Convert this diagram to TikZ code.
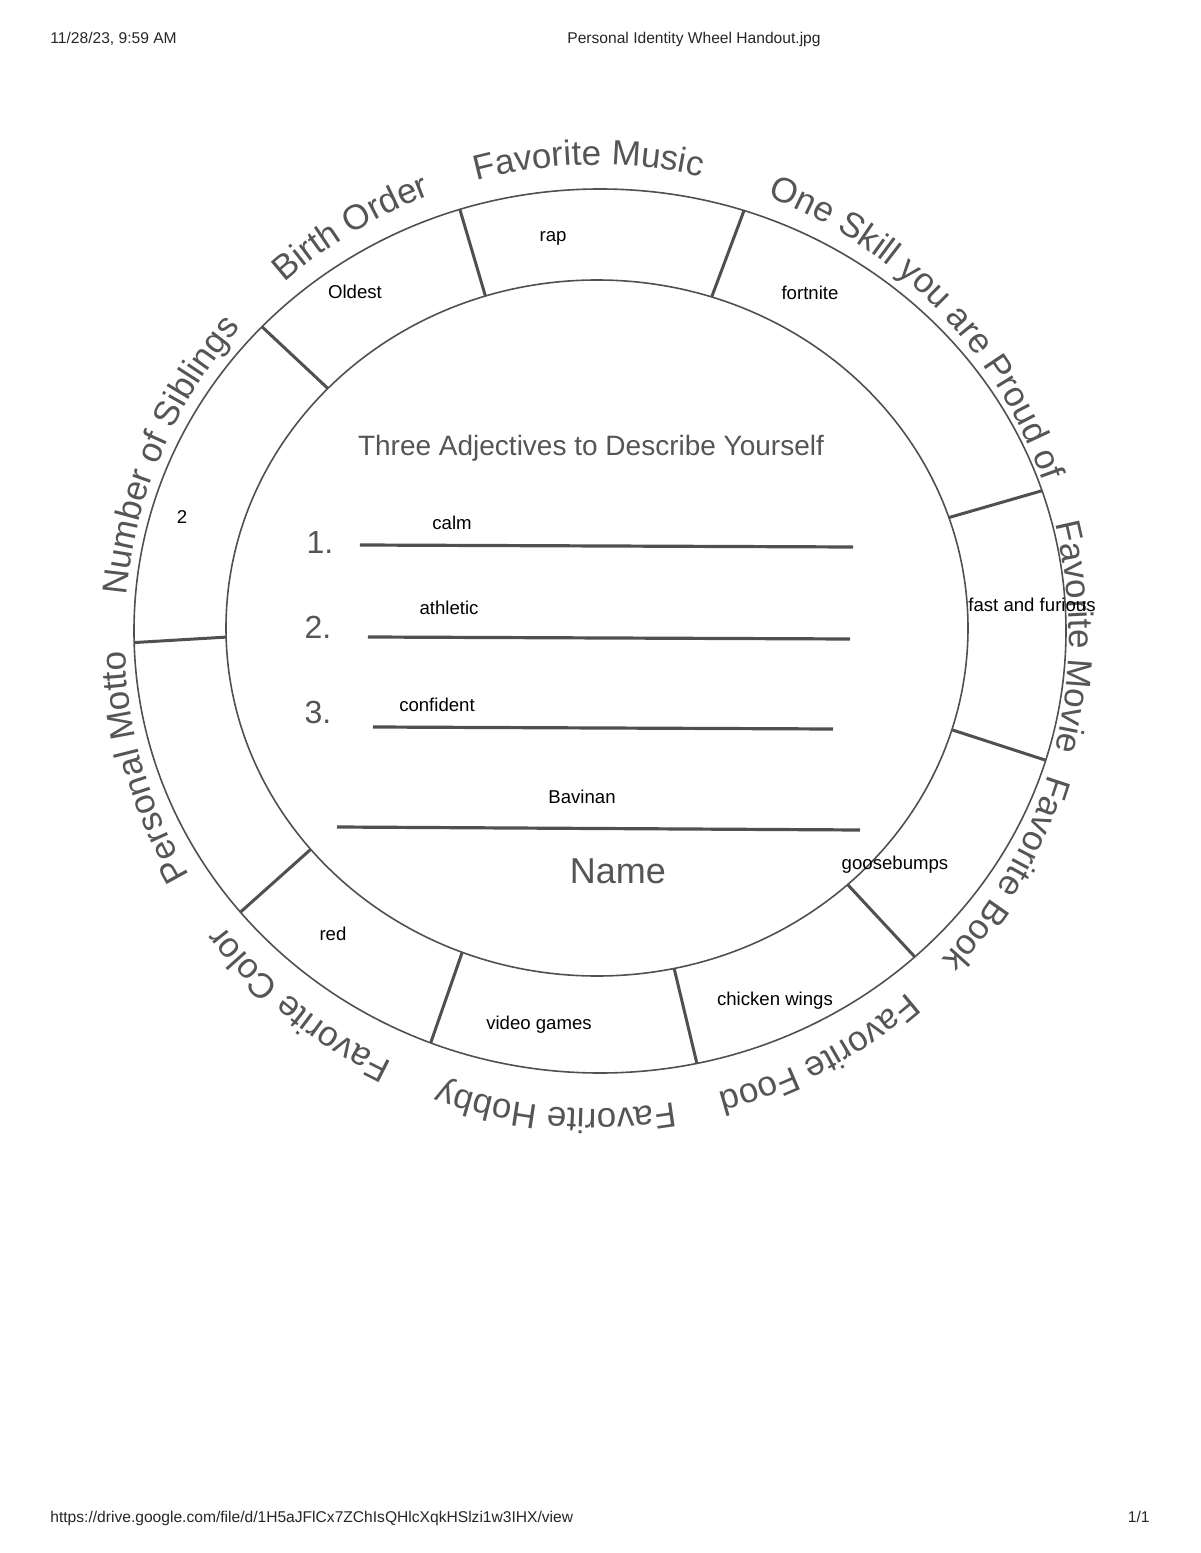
\documentclass[tikz,border=0pt]{standalone}
\usepackage{fontspec}
\setmainfont{Liberation Sans}
\usepackage{tikz}
\usetikzlibrary{decorations.text, calc}
\usepackage{xcolor}
\definecolor{ink}{RGB}{85,85,85}
\definecolor{rim}{RGB}{80,80,80}

\newcommand\rimfont{\fontsize{17.5}{20}\selectfont}
\newcommand\rimlabel[2]{%
  \path[rimtext={|\rimfont|#2}] ($(hub)+(#1+70:472)$)
       arc[start angle=#1+70, end angle=#1-70, radius=472];}

\begin{document}
\begin{tikzpicture}[x=0.5pt, y=0.5pt,
   every node/.style={font=\fontsize{9.3}{11}\selectfont, inner sep=0pt, text depth=0pt},
   answer/.style={text=black},
   printed/.style={text=ink},
   small/.style={font=\fontsize{7.8}{9}\selectfont, text=black!85},
   rimline/.style={draw=rim, line width=0.8pt},
   divider/.style={draw=rim, line width=1.5pt},
   blank/.style={draw=rim, line width=1.6pt},
   rimtext/.style={decorate, decoration={text along path, text align=center,
                   text color=ink, text={#1}}}]
  \useasboundingbox (-599,-923) rectangle (601,630);

  % page header and footer
  \node[small, anchor=west] (date) at (-549,592) {11/28/23, 9:59 AM};
  \node[small] (title) at (95,592) {Personal Identity Wheel Handout.jpg};
  \node[small, anchor=west] (url) at (-549,-887)
       {https://drive.google.com/file/d/1H5aJFlCx7ZChIsQHlcXqkHSlzi1w3IHX/view};
  \node[small, anchor=east] (page) at (551,-887) {1/1};

  % the wheel
  \coordinate (hubin) at (-2,2);
  \coordinate (hubout) at (1,-1);
  \coordinate (hub) at (-2,-7);
  \draw[rimline] (hubin) ellipse [x radius=371, y radius=348];
  \draw[rimline] (hubout) ellipse [x radius=466, y radius=442];
  \foreach \a in {136.5, 107.5, 72, 18.5, -17, -47.5, -78, -111.3, -140.5, 181.5}
    \draw[divider] ($(hubin)+(\a:371 and 348)$) -- ($(hubout)+(\a:466 and 442)$);

  % labels round the rim
  \rimlabel{91}{Favorite Music}
  \rimlabel{121}{Birth Order}
  \rimlabel{157}{Number of Siblings}
  \rimlabel{196}{Personal Motto}
  \rimlabel{231}{Favorite Color}
  \rimlabel{265}{Favorite Hobby}
  \rimlabel{298}{Favorite Food}
  \rimlabel{330}{Favorite Book}
  \rimlabel{0}{Favorite Movie}
  \rimlabel{44}{One Skill you are Proud of}

  % answers in the ring
  \node[answer] (music) at (-46,393) {rap};
  \node[answer] (birth) at (-244,338) {Oldest};
  \node[answer] (skill) at (211,337) {fortnite};
  \node[answer] (siblings) at (-417,113) {2};
  \node[answer] (movie) at (433,25) {fast and furious};
  \node[answer] (book) at (296,-233) {goosebumps};
  \node[answer] (food) at (176,-369) {chicken wings};
  \node[answer] (hobby) at (-60,-393) {video games};
  \node[answer] (color) at (-266,-304) {red};

  % centre of the wheel
  \node[printed, font=\fontsize{14}{16}\selectfont] (heading) at (-8,185)
       {Three Adjectives to Describe Yourself};
  \node[printed, font=\fontsize{16}{18}\selectfont] (num1) at (-279,88) {1.};
  \node[printed, font=\fontsize{16}{18}\selectfont] (num2) at (-281,3) {2.};
  \node[printed, font=\fontsize{16}{18}\selectfont] (num3) at (-281,-82) {3.};
  \draw[blank] (-239,85) -- (254,83);
  \draw[blank] (-231,-7) -- (251,-9);
  \draw[blank] (-226,-97) -- (234,-99);
  \draw[blank] (-262,-197) -- (261,-200);
  \node[answer] (adj1) at (-147,107) {calm};
  \node[answer] (adj2) at (-150,22) {athletic};
  \node[answer] (adj3) at (-162,-75) {confident};
  \node[answer] (name) at (-17,-167) {Bavinan};
  \node[printed, font=\fontsize{18}{20}\selectfont] (namelabel) at (19,-241) {Name};
\end{tikzpicture}
\end{document}
